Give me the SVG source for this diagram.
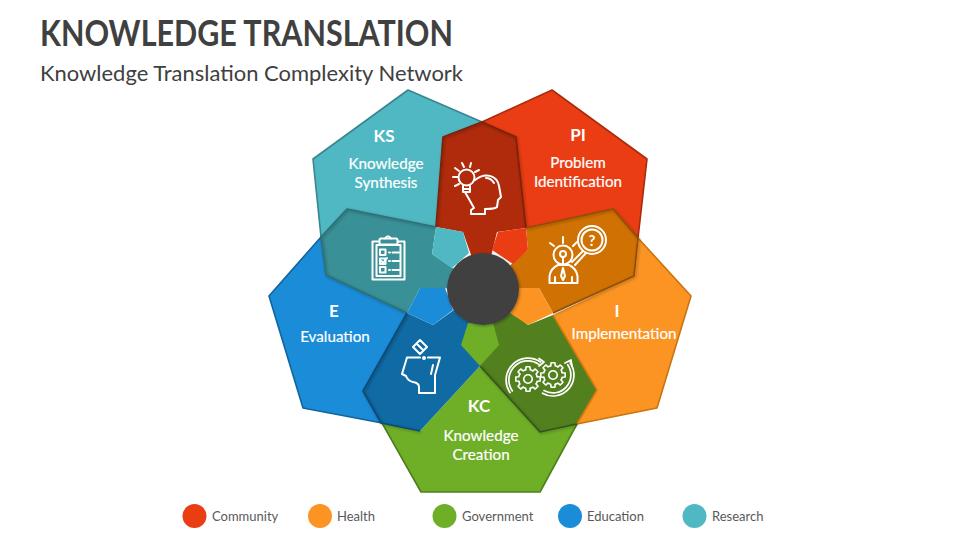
<svg xmlns="http://www.w3.org/2000/svg" width="960" height="540" viewBox="0 0 960 540">
<style>
text{font-family:"Lato","Carlito","Liberation Sans",sans-serif}
.t{fill:#404040}
.h{fill:#fff;font-size:17px;font-weight:700;text-anchor:middle}
.l{fill:#fff;font-size:15.2px;text-anchor:middle;stroke:#fff;stroke-width:.2px}
.k{fill:#595959;font-size:13px}
.i{fill:none;stroke:#fff;stroke-width:2;stroke-linejoin:round;stroke-linecap:round}
.e{fill:none;stroke-width:1.6;stroke-linejoin:round}
</style>
<defs>
<filter id="sh" x="-20%" y="-20%" width="140%" height="140%"><feDropShadow dx="1" dy="1" stdDeviation="1.5" flood-color="#000" flood-opacity=".35"/></filter>
<path id="tooth" d="M9.7-2.42L12.84-2.03V2.03L9.7 2.42A10 10 0 0 1 8.57 5.15"/>
<g id="gear">
<use href="#tooth"/><use href="#tooth" transform="rotate(45)"/><use href="#tooth" transform="rotate(90)"/><use href="#tooth" transform="rotate(135)"/><use href="#tooth" transform="rotate(180)"/><use href="#tooth" transform="rotate(225)"/><use href="#tooth" transform="rotate(270)"/><use href="#tooth" transform="rotate(315)"/>
<circle r="4.5"/>
</g>
</defs>
<rect width="960" height="540" fill="#fff"/>
<text class="t" x="40" y="46" font-size="36" font-weight="700" textLength="413" lengthAdjust="spacingAndGlyphs">KNOWLEDGE TRANSLATION</text>
<text class="t" x="40" y="81" font-size="22" textLength="423" lengthAdjust="spacingAndGlyphs">Knowledge Translation Complexity Network</text>

<g id="node-ks">
<polygon points="408,90 313,159 321,237 347,209 436,227 443,137 482,122" fill="#4FB8C2"/>
<polyline class="e" points="321,237 313,159 408,90 482,122" stroke="#38868e"/>
</g>
<g id="node-pi">
<polygon points="482,122 552,90 647,159 638,238 613,209 526,228 516,137" fill="#EB3D13"/>
<polyline class="e" points="482,122 552,90 647,159 638,238" stroke="#a92c0e"/>
</g>
<g id="node-i">
<polygon points="638,238 691,296 657,408 577,424 597,390 553,315 634,276" fill="#FB9423"/>
<polyline class="e" points="638,238 691,296 657,408 577,424" stroke="#c97413"/>
</g>
<g id="node-e">
<polygon points="321,237 269,296 303,408 382,423 363,391 407,313 326,275" fill="#1A8CD8"/>
<polyline class="e" points="321,237 269,296 303,408 382,423" stroke="#12659c"/>
</g>
<g id="node-kc">
<polygon points="382,423 421,492 540,492 577,424 540,432 480,366 420,431" fill="#6EAF27"/>
<polyline class="e" points="382,423 421,492 540,492 577,424" stroke="#4f7f1c"/>
</g>

<g id="overlap-ks-pi">
<polygon points="436,227 443,137 482,122 516,137 526,228 497,232 483,289 463,232" fill="#AF2B0C"/>
<polyline class="e" points="436,227 443,137 482,122 516,137 526,228" stroke="#7a2008" filter="url(#sh)"/>
<g class="i">
<circle cx="466.500" cy="177.500" r="8"/>
<path d="M463 186V192H470V186M463 189H470"/>
<path d="M453 177H458M455 168L459 171M462 163L464 167M471 163L470 167M479 170L475 172M455 186L459 184"/>
<path d="M475 180C485 172 497 175 499 186L501 197 498 200 497 207Q495 209 485 209V214H471V210L474 208 465 192"/>
<path d="M486 178Q491 178 494 183"/>
</g>
</g>
<g id="overlap-ks-e">
<polygon points="347,209 321,237 326,275 407,313 420,288 483,289 432,254 436,227" fill="#3A9097"/>
<polyline class="e" points="436,227 347,209 321,237 326,275 407,313" stroke="#2c6f75" filter="url(#sh)"/>
<g class="i">
<rect x="372.500" y="241.500" width="32" height="38"/>
<rect x="376.500" y="245" width="24" height="31"/>
<rect x="379.500" y="238.500" width="18" height="6" rx="1.500" fill="#3A9097"/>
<path d="M385 238.500Q388 234 391 238.500"/>
<rect x="380" y="249.500" width="5.500" height="5.500"/>
<rect x="380" y="258.500" width="5.500" height="5.500"/>
<rect x="380" y="267" width="5.500" height="5.500"/>
<path d="M389 252.500H390M392.500 252.500H399M389 261H390M392.500 261H399M389 270H390M392.500 270H399M381.500 261L383 263 387 258"/>
</g>
</g>
<g id="overlap-pi-i">
<polygon points="526,228 613,209 638,238 634,276 553,313 539,288 483,289 528,250" fill="#D07103"/>
<polyline class="e" points="526,228 613,209 638,238 634,276 553,313" stroke="#8c4f07" filter="url(#sh)"/>
<g class="i">
<circle cx="592" cy="240" r="14"/>
<circle cx="592" cy="240" r="10.500"/>
<path d="M583 251L572 262M586 253L575 265"/>
<circle cx="563" cy="255" r="9.500"/>
<circle cx="563" cy="254" r="3"/>
<path d="M563 257V264M563 237V243M550 243L554 246M577 242L573 246"/>
<path d="M549.500 283V276Q551 268 558 265H569Q576 268 577.500 276V283ZM555 283V277M572 283V277"/>
<path d="M563 268L561 276 563 280 565 276Z"/>
</g>
<text x="592" y="245.500" font-size="15" font-weight="700" fill="#fff" text-anchor="middle">?</text>
</g>
<g id="overlap-i-kc">
<polygon points="553,315 597,390 577,424 540,432 480,366 483,289 528,325" fill="#52801F"/>
<polyline class="e" points="553,315 597,390 577,424" stroke="#d9770c"/>
<polyline class="e" points="577,424 540,432 480,366" stroke="#34541a" filter="url(#sh)"/>
<g fill="none" stroke="#fff" stroke-width="1.700" stroke-linejoin="round" stroke-linecap="round">
<use href="#gear" transform="translate(528,379) scale(.95)"/>
<use href="#gear" transform="translate(553,375) scale(.95)"/>
<path d="M512.400 390.900A19 19 0 0 1 538.900 364.400M510 392.600A22 22 0 0 1 540.600 362"/>
<path d="M539 358.500L544 362 539 366"/>
<path d="M544 390.600A18 18 0 0 0 567.700 364.700M542.500 393.200A21 21 0 0 0 570.200 363"/>
<path d="M565 363L571 360 572 366"/>
</g>
</g>
<g id="overlap-e-kc">
<polygon points="407,313 363,391 381,423 420,431 480,366 483,289 433,325" fill="#106AA4"/>
<polyline class="e" points="407,313 363,391 381,423 420,431" stroke="#0b4a73" filter="url(#sh)"/>
<g class="i">
<path d="M420 340L427 347 420 354 413 347ZM416.500 343.500L423.500 350.500"/>
<circle cx="424" cy="358" r="1"/>
<path d="M420 357.500H407L402 374 406 376Q408 381 413 382 419 383 419 387V393H435L435 375 440 357.500H428"/>
<path d="M433 365L431 374"/>
</g>
</g>

<g id="petals-inner">
<polygon points="436,227 463,232 469,253 452,268 432,254" fill="#4FB8C2"/>
<polygon points="526,228 498,232 492,250 513,264 528,250" fill="#EB3D13"/>
<polygon points="510,313 528,325 553,313 539,288 505,288" fill="#FB9423"/>
<polygon points="461,345 468,323 493,323 499,345 480,366" fill="#6EAF27"/>
<polygon points="420,288 445,288 453,310 433,325 407,313" fill="#1A8CD8"/>
</g>

<g id="hub"><circle cx="483" cy="289" r="36" fill="#404040" filter="url(#sh)"/></g>

<g id="labels">
<text class="h" x="384" y="142">KS</text>
<text class="l" x="386" y="169">Knowledge</text>
<text class="l" x="386" y="188">Synthesis</text>
<text class="h" x="578" y="141">PI</text>
<text class="l" x="578" y="168">Problem</text>
<text class="l" x="578" y="187">Identification</text>
<text class="h" x="334" y="317">E</text>
<text class="l" x="335" y="342">Evaluation</text>
<text class="h" x="617" y="317">I</text>
<text class="l" x="624" y="339">Implementation</text>
<text class="h" x="479" y="412">KC</text>
<text class="l" x="481" y="441">Knowledge</text>
<text class="l" x="481" y="460">Creation</text>
</g>

<g id="legend">
<g id="legend-community"><circle cx="194.500" cy="516" r="12" fill="#EB3D13"/><text class="k" x="212" y="521">Community</text></g>
<g id="legend-health"><circle cx="320" cy="516" r="12" fill="#FB9423"/><text class="k" x="337" y="521">Health</text></g>
<g id="legend-government"><circle cx="444.500" cy="516" r="12" fill="#6EAF27"/><text class="k" x="462" y="521">Government</text></g>
<g id="legend-education"><circle cx="570" cy="516" r="12" fill="#1A8CD8"/><text class="k" x="587" y="521">Education</text></g>
<g id="legend-research"><circle cx="694.500" cy="516" r="12" fill="#4FB8C2"/><text class="k" x="712" y="521">Research</text></g>
</g>
</svg>
